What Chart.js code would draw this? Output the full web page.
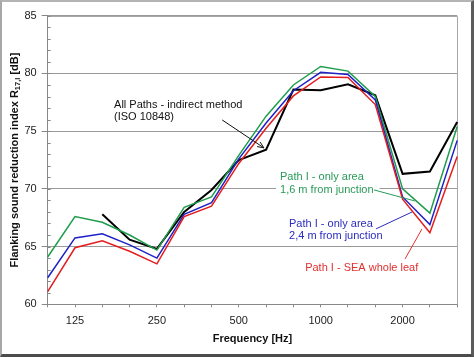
<!DOCTYPE html>
<html><head><meta charset="utf-8">
<script src="https://cdn.jsdelivr.net/npm/chart.js@4/dist/chart.umd.min.js"></script>
<style>
html,body{margin:0;padding:0;background:#fff;}
#frame{position:absolute;left:0;top:0;width:474px;height:357px;box-sizing:border-box;border-top:2px solid #b4b4b4;border-left:2px solid #a8a8a8;border-right:3px solid #5c5c5c;border-bottom:3px solid #4c4c4c;background:#fff;}
#wrap{position:relative;width:469px;height:352px;}
</style></head><body>
<div id="frame"><div id="wrap"><canvas id="c"></canvas></div></div>
<script>
// ---- data ----
const bands = ['100','125','160','200','250','315','400','500','630','800','1000','1250','1600','2000','2500','3150'];
const shownTickLabels = ['125','250','500','1000','2000'];
const allPathsIndirect = [null, null, 67.8, 65.6, 64.8, 68.0, 69.9, 72.5, 73.4, 78.6, 78.55, 79.05, 78.1, 71.3, 71.5, 75.8];
const pathI_16m = [64.1, 67.6, 67.1, 66.0, 64.7, 68.4, 69.3, 72.9, 76.3, 79.0, 80.6, 80.2, 78.0, 70.0, 67.9, 75.4];
const pathI_24m = [62.3, 65.75, 66.1, 65.15, 64.0, 67.8, 68.8, 72.6, 75.7, 78.5, 80.1, 79.9, 77.7, 69.3, 66.9, 74.2];
const pathI_SEA = [61.1, 64.9, 65.5, 64.6, 63.5, 67.6, 68.5, 72.2, 75.25, 78.05, 79.7, 79.65, 77.3, 69.1, 66.2, 72.8];
const yMin = 60, yMax = 85, yStep = 5;
const yTitleParts = ['Flanking sound reduction index R', '17,l', ' [dB]'];

const GREEN = '#1f9d4c', BLUE = '#2020c8', RED = '#e41e1e', BLACK = '#000000';

// annotation labels (placed in data space: [category index, dB])
const notes = [
  {lines:['All Paths - indirect method','(ISO 10848)'], color:'#111', at:[2.43,77.3], from:[6.39,75.97], to:[7.92,73.55], arrow:true},
  {lines:['Path I - only area','1,6 m from junction'], color:'#2a9a58', at:[8.51,71.03], from:[11.95,69.91], to:[13.45,68.95]},
  {lines:['Path I - only area','2,4 m from junction'], color:'#2b2bbf', at:[8.84,66.97], from:[12.03,66.54], to:[13.35,68.0]},
  {lines:['Path I - SEA whole leaf'], color:'#e23030', at:[9.43,63.11], from:[13.09,63.93], to:[13.71,66.53]}
];

const FONT = '"Liberation Sans", Arial, sans-serif';

const decor = {
  id: 'decor',
  beforeDatasetsDraw(chart) {
    const {ctx, chartArea: a, scales: {x, y}} = chart;
    ctx.save();
    // plot frame
    ctx.strokeStyle = '#a8a8a8'; ctx.lineWidth = 1;
    ctx.beginPath();
    ctx.moveTo(a.left, Math.round(a.top) + 0.5);
    ctx.lineTo(Math.round(a.right) + 0.5, Math.round(a.top) + 0.5);
    ctx.lineTo(Math.round(a.right) + 0.5, a.bottom);
    ctx.stroke();
    // minor y ticks (inside)
    ctx.strokeStyle = '#888';
    for (let v = yMin; v <= yMax; v++) {
      const py = Math.round(y.getPixelForValue(v)) + 0.5;
      ctx.beginPath(); ctx.moveTo(a.left, py); ctx.lineTo(a.left + 3, py); ctx.stroke();
    }
    // y axis title with subscript
    const big = 'bold 11px ' + FONT, small = 'bold 7.5px ' + FONT;
    ctx.font = big; const w0 = ctx.measureText(yTitleParts[0]).width, w2 = ctx.measureText(yTitleParts[2]).width;
    ctx.font = small; const w1 = ctx.measureText(yTitleParts[1]).width;
    const total = w0 + w1 + w2;
    ctx.translate(13, (a.top + a.bottom) / 2);
    ctx.rotate(-Math.PI / 2);
    ctx.fillStyle = '#111'; ctx.textBaseline = 'middle'; ctx.textAlign = 'left';
    let sx = -total / 2;
    ctx.font = big; ctx.fillText(yTitleParts[0], sx, 0); sx += w0;
    ctx.font = small; ctx.fillText(yTitleParts[1], sx, 3); sx += w1;
    ctx.font = big; ctx.fillText(yTitleParts[2], sx, 0);
    ctx.setTransform(1, 0, 0, 1, 0, 0);
    ctx.restore();
    ctx.save();
    // label boxes + text
    ctx.font = '11px ' + FONT;
    ctx.textBaseline = 'middle';
    ctx.textAlign = 'left';
    const lh = 12.5;
    notes.forEach(n => {
      const tx = x.getPixelForValue(n.at[0]);
      const ty = y.getPixelForValue(n.at[1]);
      const w = Math.max(...n.lines.map(l => ctx.measureText(l).width));
      ctx.fillStyle = '#fff';
      ctx.fillRect(tx - 4, ty - 8, w + 10, lh * (n.lines.length - 1) + 16);
      ctx.fillStyle = n.color;
      n.lines.forEach((l, i) => ctx.fillText(l, tx, ty + i * lh));
    });
    ctx.restore();
  },
  afterDatasetsDraw(chart) {
    const {ctx, scales: {x, y}} = chart;
    ctx.save();
    ctx.lineWidth = 1;
    notes.forEach(n => {
      const x1 = x.getPixelForValue(n.from[0]), y1 = y.getPixelForValue(n.from[1]);
      const x2 = x.getPixelForValue(n.to[0]), y2 = y.getPixelForValue(n.to[1]);
      ctx.strokeStyle = n.color; ctx.fillStyle = n.color;
      ctx.beginPath(); ctx.moveTo(x1, y1); ctx.lineTo(x2, y2); ctx.stroke();
      if (n.arrow) {
        const ang = Math.atan2(y2 - y1, x2 - x1), L = 7, s = 0.4;
        ctx.beginPath();
        ctx.moveTo(x2 - L * Math.cos(ang - s), y2 - L * Math.sin(ang - s));
        ctx.lineTo(x2, y2);
        ctx.lineTo(x2 - L * Math.cos(ang + s), y2 - L * Math.sin(ang + s));
        ctx.stroke();
      }
    });
    ctx.restore();
  }
};

const ds = (label, data, color, width) => ({
  label, data, borderColor: color, backgroundColor: color, borderWidth: width,
  pointRadius: 0, tension: 0, fill: false, spanGaps: false
});

new Chart(document.getElementById('c'), {
  type: 'line',
  data: {
    labels: bands,
    datasets: [
      ds('Path I - SEA whole leaf', pathI_SEA, RED, 1.5),
      ds('Path I - only area 2,4 m from junction', pathI_24m, BLUE, 1.5),
      ds('Path I - only area 1,6 m from junction', pathI_16m, GREEN, 1.5),
      ds('All Paths - indirect method (ISO 10848)', allPathsIndirect, BLACK, 2)
    ]
  },
  options: {
    responsive: true, maintainAspectRatio: false, animation: false,
    layout: { padding: { left: 0, right: 13.8, top: 13.7, bottom: 0 } },
    plugins: { legend: { display: false }, tooltip: { enabled: false } },
    scales: {
      x: {
        type: 'category', offset: false,
        afterFit(s) { s.height = 49.7; },
        grid: { display: true, drawOnChartArea: false, drawTicks: true, tickLength: 3, color: '#888' },
        border: { display: true, color: '#888', width: 1 },
        ticks: {
          autoSkip: false, maxRotation: 0, padding: 7, color: '#222',
          font: { family: FONT, size: 11 },
          callback(v, i) { return shownTickLabels.includes(bands[i]) ? bands[i] : ''; }
        },
        title: { display: true, text: 'Frequency [Hz]', color: '#111',
          font: { family: FONT, size: 11, weight: 'bold' }, padding: { top: 0, bottom: 8.5 } }
      },
      y: {
        min: yMin, max: yMax,
        afterFit(s) { s.width = 45.7; },
        grid: { color: '#9a9a9a', lineWidth: 1, drawTicks: true, tickLength: 6, tickColor: '#888' },
        border: { display: true, color: '#888', width: 1 },
        ticks: { stepSize: yStep, padding: 5, color: '#222', font: { family: FONT, size: 11 } },
        title: { display: false }
      }
    }
  },
  plugins: [decor]
});
</script>
</body></html>
